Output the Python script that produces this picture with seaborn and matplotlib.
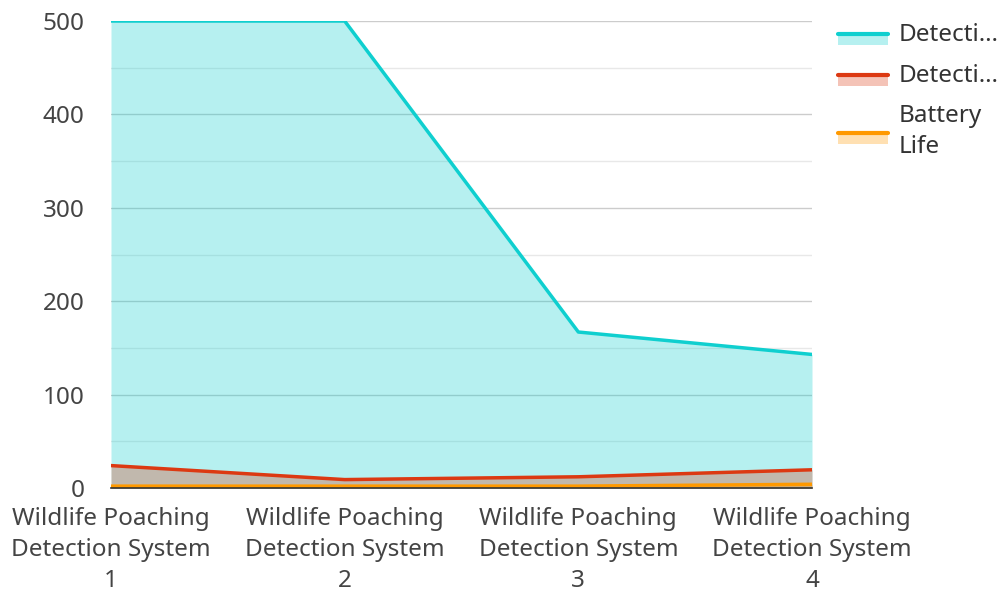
import matplotlib
matplotlib.use("Agg")
import matplotlib.pyplot as plt
import seaborn as sns
import pandas as pd
from matplotlib.patches import Patch, Rectangle
from matplotlib.lines import Line2D
from matplotlib.ticker import MultipleLocator
from matplotlib.legend_handler import HandlerBase

categories = ["Wildlife Poaching\nDetection System\n1", "Wildlife Poaching\nDetection System\n2",
              "Wildlife Poaching\nDetection System\n3", "Wildlife Poaching\nDetection System\n4"]
series_names = ["Detecti…", "Detecti…", "Battery\nLife"]
detection_range = [500, 500, 167, 143]
detection_accuracy = [24, 9, 12, 19.5]
battery_life = [2, 2, 2, 4]
colors = ["#0fcfcf", "#dc3912", "#ff9900"]

sns.set_theme(style="white")
plt.rcParams['font.family'] = ['Noto Sans', 'DejaVu Sans']

fig = plt.figure(figsize=(10, 5.91), dpi=100)
ax = fig.add_axes([0.111, 1 - 488/591, 0.701, (488 - 21)/591])

x = list(range(len(categories)))
all_series = [detection_range, detection_accuracy, battery_life]
df = pd.DataFrame({
    "x": x * 3,
    "value": detection_range + detection_accuracy + battery_life,
    "series": sum([[n + str(i)] * 4 for i, n in enumerate(series_names)], []),
})

for i, vals in enumerate(all_series):
    ax.fill_between(x, 0, vals, color=colors[i], alpha=0.3, linewidth=0, zorder=2)
sns.lineplot(data=df, x="x", y="value", hue="series", palette=colors, linewidth=2.5,
             ax=ax, legend=False, zorder=3)

ax.set_xlim(0, 3)
ax.set_ylim(0, 500)
ax.yaxis.set_major_locator(MultipleLocator(100))
ax.yaxis.set_minor_locator(MultipleLocator(50))
ax.grid(which="major", axis="y", color="#cccccc", linewidth=1, zorder=1)
ax.grid(which="minor", axis="y", color="#e8e8e8", linewidth=1, zorder=1)
ax.set_axisbelow(True)
ax.set_xticks(x)
ax.set_xticklabels(categories)
ax.tick_params(axis="both", length=0, labelsize=17.5, colors="#444444")
ax.tick_params(axis="x", pad=13.5)
ax.tick_params(axis="y", pad=19)
for lbl in ax.get_xticklabels():
    lbl.set_linespacing(1.39)
ax.set_xlabel("")
ax.set_ylabel("")
for s in ["top", "right", "left"]:
    ax.spines[s].set_visible(False)
ax.spines["bottom"].set_color("#333333")
ax.spines["bottom"].set_linewidth(1.2)
ax.spines["bottom"].set_zorder(4)


class AreaHandler(HandlerBase):
    def __init__(self, color):
        super().__init__()
        self.color = color

    def create_artists(self, legend, orig_handle, xdescent, ydescent, width, height, fontsize, trans):
        r = Rectangle((-xdescent, -ydescent - height * 0.05), width, height * 0.5, facecolor=self.color,
                      alpha=0.3, linewidth=0, transform=trans)
        l = Line2D([-xdescent, -xdescent + width], [-ydescent + height * 0.45] * 2,
                   color=self.color, linewidth=3, transform=trans)
        return [r, l]


handles = [Patch() for _ in series_names]
hmap = {h: AreaHandler(c) for h, c in zip(handles, colors)}
leg = fig.legend(handles, series_names, handler_map=hmap, loc="upper left",
                 bbox_to_anchor=(0.816, 1.0), frameon=False, fontsize=17.5,
                 handlelength=2.08, handleheight=1.0, labelspacing=0.65, handletextpad=0.42)
for t in leg.get_texts():
    t.set_color("#333333")
    t.set_linespacing(1.39)

fig.savefig("out.png", dpi=100)
